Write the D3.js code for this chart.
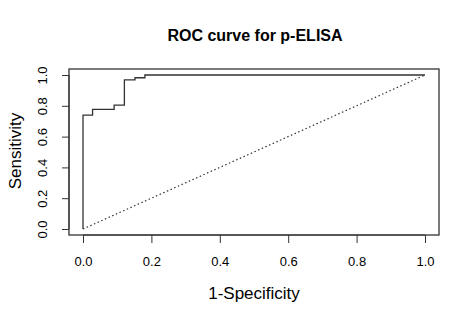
<!DOCTYPE html>
<html><head><meta charset="utf-8">
<script src="https://cdn.jsdelivr.net/npm/d3@7"></script>
<style>body{margin:0;background:#fff}svg{display:block}text{font-family:"Liberation Sans",Arial,sans-serif;fill:#000}</style>
</head><body>
<script>
const fpr = [0, 0, 0.028, 0.028, 0.091, 0.091, 0.121, 0.121, 0.152, 0.152, 0.181, 0.181, 1];
const tpr = [0, 0.74, 0.74, 0.777, 0.777, 0.805, 0.805, 0.968, 0.968, 0.982, 0.982, 1, 1];
const ticks = [0, 0.2, 0.4, 0.6, 0.8, 1.0];
const tickLabels = ["0.0", "0.2", "0.4", "0.6", "0.8", "1.0"];

const W = 474, H = 321;
const svg = d3.select("body").append("svg").attr("width", W).attr("height", H);
const x = d3.scaleLinear().domain([0, 1]).range([83, 425]);
const y = d3.scaleLinear().domain([0, 1]).range([229, 75]);
const box = {l: 69, r: 439, t: 69, b: 235};

// box
svg.append("rect").attr("x", box.l).attr("y", box.t).attr("width", box.r - box.l).attr("height", box.b - box.t)
  .attr("fill", "none").attr("stroke", "#333").attr("stroke-width", 1.3);

// diagonal
svg.append("line").attr("x1", x(0)).attr("y1", y(0)).attr("x2", x(1)).attr("y2", y(1))
  .attr("stroke", "#333").attr("stroke-width", 1.2).attr("stroke-dasharray", "1.5,2.5");

// curve
const pts = fpr.map((v, i) => [v, tpr[i]]);
svg.append("path").datum(pts)
  .attr("d", d3.line().x(d => x(d[0])).y(d => y(d[1])))
  .attr("fill", "none").attr("stroke", "#333").attr("stroke-width", 1.3);

// x axis
const xa = svg.append("g").attr("transform", `translate(0,${box.b})`)
  .call(d3.axisBottom(x).tickValues(ticks).tickFormat((d, i) => tickLabels[i]).tickSize(8).tickPadding(14));
xa.select(".domain").attr("d", `M${x(0)},0H${x(1)}`).attr("stroke", "#333");
xa.selectAll("line").attr("stroke", "#333");
xa.selectAll("text").attr("font-size", 13).attr("font-family", "Liberation Sans, Arial, sans-serif").attr("fill", "#000");

// y axis
const ya = svg.append("g").attr("transform", `translate(${box.l},0)`)
  .call(d3.axisLeft(y).tickValues(ticks).tickFormat((d, i) => tickLabels[i]).tickSize(7));
ya.select(".domain").attr("d", `M0,${y(0)}V${y(1)}`).attr("stroke", "#333");
ya.selectAll("line").attr("stroke", "#333");
ya.selectAll("text").remove();
ya.selectAll(".tick").append("text")
  .attr("transform", "translate(-22,0) rotate(-90)")
  .attr("text-anchor", "middle").attr("font-size", 13)
  .attr("font-family", "Liberation Sans, Arial, sans-serif").attr("fill", "#000")
  .text((d, i) => tickLabels[i]);

// titles
svg.append("text").attr("x", (box.l + box.r) / 2 + 1).attr("y", 41).attr("text-anchor", "middle")
  .attr("font-size", 16).attr("font-weight", "bold").text("ROC curve for p-ELISA");
svg.append("text").attr("x", (box.l + box.r) / 2).attr("y", 299).attr("text-anchor", "middle")
  .attr("font-size", 17).text("1-Specificity");
svg.append("text").attr("transform", `translate(21,${(box.t + box.b) / 2 - 1}) rotate(-90)`).attr("text-anchor", "middle")
  .attr("font-size", 17).text("Sensitivity");
</script>
</body></html>
